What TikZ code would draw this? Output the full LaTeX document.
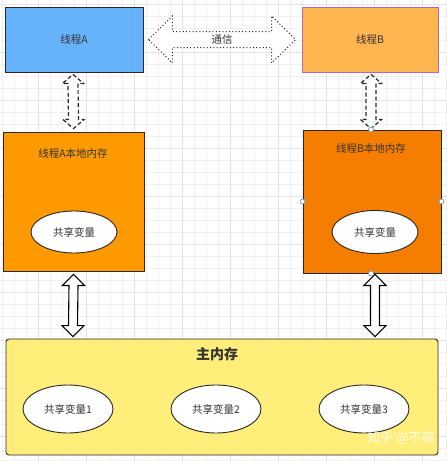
\documentclass[tikz,border=0pt]{standalone}
\usepackage{fontspec}
\setmainfont{Noto Sans CJK SC}
\usetikzlibrary{shapes.geometric,calc}
\definecolor{blueA}{RGB}{102,179,252}
\definecolor{orangeB}{RGB}{255,181,80}
\definecolor{localA}{RGB}{255,153,0}
\definecolor{localB}{RGB}{245,126,0}
\definecolor{mainY}{RGB}{255,238,122}
\definecolor{edge}{RGB}{40,40,40}
\definecolor{purpleB}{RGB}{185,100,190}
\definecolor{txt}{RGB}{51,51,51}
\definecolor{gridminor}{RGB}{240,240,240}
\definecolor{gridmajor}{RGB}{228,228,228}
\definecolor{handle}{RGB}{90,145,190}
\newcommand\vdarr[6]{%
  \draw[#1] (#2) -- ($(#2)+(#5,#6)$) -- ($(#2)+(#4,#6)$) -- ($(#3)+(#4,-#6)$) -- ($(#3)+(#5,-#6)$) -- (#3)
   -- ($(#3)+(-#5,-#6)$) -- ($(#3)+(-#4,-#6)$) -- ($(#2)+(-#4,#6)$) -- ($(#2)+(-#5,#6)$) -- cycle;}
\newcommand\hdarr[6]{%
  \draw[#1] (#2) -- ($(#2)+(#6,-#5)$) -- ($(#2)+(#6,-#4)$) -- ($(#3)+(-#6,-#4)$) -- ($(#3)+(-#6,-#5)$) -- (#3)
   -- ($(#3)+(-#6,#5)$) -- ($(#3)+(-#6,#4)$) -- ($(#2)+(#6,#4)$) -- ($(#2)+(#6,#5)$) -- cycle;}
\begin{document}
\begin{tikzpicture}[x=1pt,y=-1pt,
  lbl/.style={font=\fontsize{10.5}{12}\selectfont, text=txt},
  box/.style={draw=edge, line width=0.9pt, inner sep=0pt, lbl},
  oval/.style={ellipse, draw=edge, line width=0.9pt, fill=white, inner sep=0pt, lbl},
  dotarrow/.style={draw=edge, fill=white, line width=1pt, dash pattern=on 1pt off 2.3pt},
  dasharrow/.style={draw=edge, fill=white, line width=1.2pt, dash pattern=on 4pt off 2.5pt},
  hollowarrow/.style={draw=black, fill=white, line width=1.1pt, line join=miter},
  selhandle/.style={circle, draw=handle, fill=white, line width=0.6pt, inner sep=0pt, minimum size=5pt}]
\useasboundingbox (0,0) rectangle (447,461);
\fill[white] (0,0) rectangle (447,461);
% grid
\foreach \x in {2,14,...,446} \draw[gridminor, line width=0.6pt] (\x,0) -- (\x,461);
\foreach \y in {4,16,...,460} \draw[gridminor, line width=0.6pt] (0,\y) -- (447,\y);
\foreach \x in {38,86,...,446} \draw[gridmajor, line width=0.7pt] (\x,0) -- (\x,461);
\foreach \y in {4,52,...,460} \draw[gridmajor, line width=0.7pt] (0,\y) -- (447,\y);
% thread boxes
\node[box, fill=blueA, minimum width=138pt, minimum height=65pt] (tA) at (74,39.5) {线程A};
\node[box, draw=purpleB, fill=orangeB, minimum width=136pt, minimum height=65pt] (tB) at (370,39.5) {线程B};
% local memory boxes
\node[box, fill=localA, minimum width=141pt, minimum height=139pt] (lA) at (73.5,201.5) {};
\node[lbl] (lAt) at (73,154) {线程A本地内存};
\node[oval, minimum width=86pt, minimum height=42pt] (eA) at (74,232) {共享变量};
\node[box, fill=localB, minimum width=138pt, minimum height=143pt] (lB) at (372,201.5) {};
\node[lbl] (lBt) at (371,149) {线程B本地内存};
\node[oval, minimum width=86pt, minimum height=43pt] (eB) at (375,232) {共享变量};
% main memory
\node[box, fill=mainY, rounded corners=3pt, minimum width=432pt, minimum height=116pt] (mm) at (222,397) {};
\node[font=\fontsize{14}{16}\selectfont\bfseries, text=txt] (mmt) at (217,354) {主内存};
\node[oval, minimum width=90pt, minimum height=48pt] (v1) at (68,409) {共享变量1};
\node[oval, minimum width=90pt, minimum height=48pt] (v2) at (216,409) {共享变量2};
\node[oval, minimum width=90pt, minimum height=48pt] (v3) at (364,409) {共享变量3};
% communication arrow
\coordinate (cL) at ($(tA.east)+(5,0)$);
\coordinate (cR) at ($(tB.west)+(-6,0)$);
\hdarr{dotarrow}{cL}{cR}{8}{23.5}{24}
\node[lbl] (comm) at ($(cL)!0.5!(cR)$) {通信};
% dashed vertical arrows
\coordinate (aT) at ($(tA.south)+(-1,2)$);
\coordinate (aB) at ($(lA.north)+(0,-3)$);
\vdarr{dasharrow}{aT}{aB}{5}{10.5}{9}
\coordinate (bT) at ($(tB.south)+(1,2)$);
\coordinate (bB) at ($(lB.north)+(-1,-1)$);
\vdarr{dasharrow}{bT}{bB}{5}{10.5}{9}
% hollow vertical arrows
\coordinate (hAT) at ($(lA.south)+(0,3)$);
\coordinate (hAB) at ($(mm.north)+(-149,-2)$);
\vdarr{hollowarrow}{hAT}{hAB}{4.5}{11}{11}
\coordinate (hBT) at ($(lB.south)+(3,1)$);
\coordinate (hBB) at ($(mm.north)+(153,-2)$);
\vdarr{hollowarrow}{hBT}{hBB}{4.5}{11}{11}
% selection handles
\node[selhandle] (hn) at ($(lB.north)+(-1,0)$) {};
\node[selhandle] (hw) at (lB.west) {};
\node[selhandle] (he) at (lB.east) {};
\node[selhandle] (hs) at ($(lB.south)+(-1,0)$) {};
% watermark
\node[font=\fontsize{13}{15}\selectfont, text=white, opacity=0.85] (wm) at (401,438) {知乎 @不蒻};
\end{tikzpicture}
\end{document}
